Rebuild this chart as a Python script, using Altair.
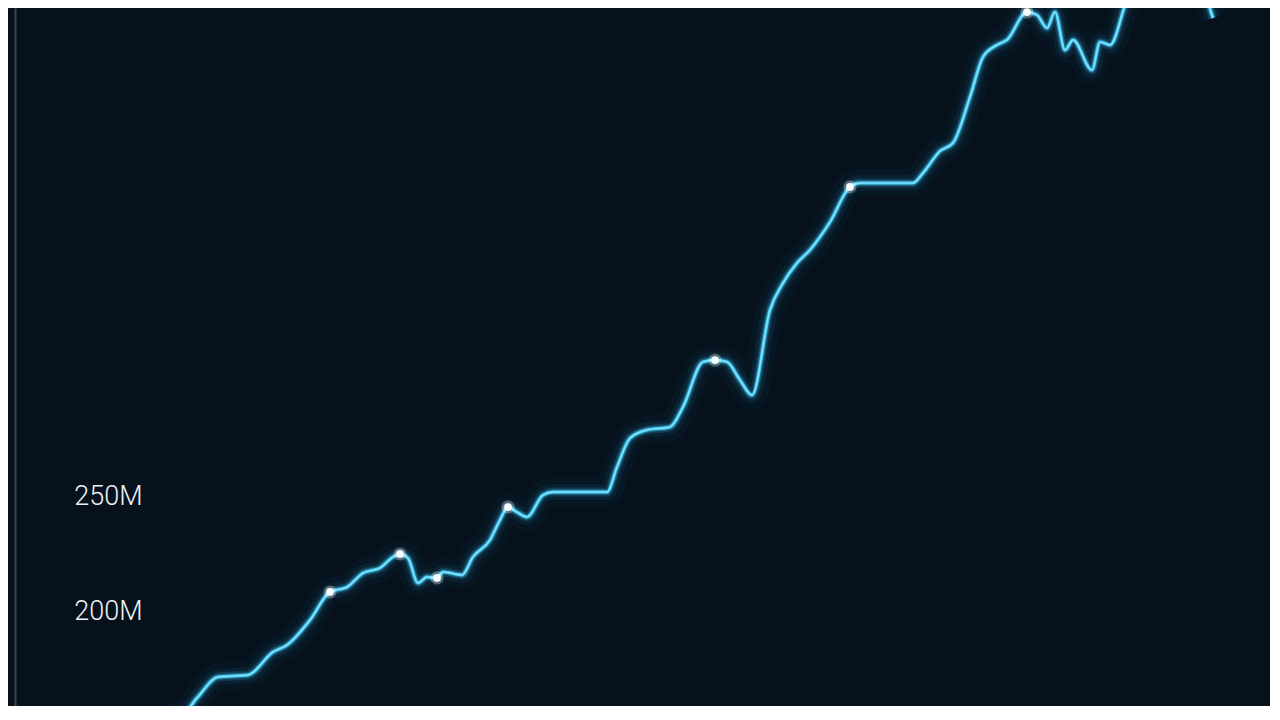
import altair as alt
import pandas as pd

# time index (arbitrary periods) and value in millions
t = [31, 33, 36.4, 40.6, 46.6, 51.6, 54.4, 59, 63, 66.4, 69.6, 73, 75.6, 77, 78.6,
     80.6, 82.4, 84.4, 85.6, 89.4, 91.6, 95, 97, 98.6, 100.4, 102.4, 105.6, 107.6,
     118.4, 120.4, 123, 126.4, 131, 133.6, 137.6, 140, 142.4, 145, 147.4, 151,
     153.6, 156.4, 159, 163, 167, 169, 179.6, 181.6, 185, 187.6, 191, 193.6, 196.4,
     198.4, 202.4, 204.4, 206.4, 208, 210, 211.6, 215.4, 217, 219, 222.4, 226, 230,
     234, 237, 238.6, 239.6]
value_m = [153.5, 153.9, 162.2, 171.3, 172.2, 182.2, 185.2, 196.1, 208.3, 210.4,
           216.5, 218.7, 223.5, 224.8, 223.0, 212.2, 214.8, 214.4, 217.0, 215.7,
           223.5, 230.9, 239.6, 245.2, 243.0, 240.9, 250.4, 251.7, 251.7, 262.6,
           275.2, 278.7, 280.0, 288.7, 308.3, 309.1, 308.3, 300.4, 293.9, 330.9,
           342.6, 351.3, 357.0, 369.1, 384.4, 386.1, 386.1, 390.4, 400.0, 403.5,
           423.5, 440.9, 446.1, 448.3, 460.4, 459.1, 453.5, 460.4, 443.9, 448.3,
           435.2, 447.4, 446.1, 465.7, 478.7, 487.0, 481.0, 492.0, 465.6, 457.8]
highlight_t = [63, 77, 84.4, 98.6, 140, 167, 202.4]
tick_values = [150, 200, 250]

df = pd.DataFrame({"t": t, "value": value_m})
hl = df[df["t"].isin(highlight_t)]

xs = alt.X("t:Q", scale=alt.Scale(domain=[0, 251], nice=False, zero=False), axis=None)
ys_axis = alt.Y(
    "value:Q",
    scale=alt.Scale(domain=[158.7, 462.17], nice=False, zero=False),
    axis=alt.Axis(
        values=tick_values,
        labelExpr="datum.value + 'M'",
        title=None,
        grid=False,
        domain=True,
        domainColor="#3a4351",
        domainWidth=2,
        ticks=True,
        tickSize=0,
        labelPadding=-127,
        labelAlign="right",
        labelBaseline="middle",
        labelColor="#eef1f5",
        labelFont="Roboto",
        labelFontSize=27,
        labelFontWeight=300,
    ),
)
ys = alt.Y("value:Q", scale=alt.Scale(domain=[158.7, 462.17], nice=False, zero=False))

base = alt.Chart(df)
glow4 = base.mark_line(color="#1f9fe0", strokeWidth=28, opacity=0.035, interpolate="monotone", clip=True).encode(x=xs, y=ys_axis)
glow3 = base.mark_line(color="#2fb6ea", strokeWidth=16, opacity=0.07, interpolate="monotone", clip=True).encode(x=xs, y=ys)
glow2 = base.mark_line(color="#35c0f0", strokeWidth=9, opacity=0.16, interpolate="monotone", clip=True).encode(x=xs, y=ys)
glow1 = base.mark_line(color="#3fc8f4", strokeWidth=5.5, opacity=0.35, interpolate="monotone", clip=True).encode(x=xs, y=ys)
core = base.mark_line(color="#4ed2f8", strokeWidth=3, interpolate="monotone", clip=True).encode(x=xs, y=ys)
inner = base.mark_line(color="#c4f0ff", strokeWidth=1.1, opacity=0.5, interpolate="monotone", clip=True).encode(x=xs, y=ys)

hl_glow = alt.Chart(hl).mark_circle(color="white", size=170, opacity=0.3, clip=True).encode(x=xs, y=ys)
hl_dot = alt.Chart(hl).mark_circle(color="white", size=60, opacity=0.95, clip=True).encode(x=xs, y=ys)

chart = alt.layer(glow4, glow3, glow2, glow1, core, inner, hl_glow, hl_dot).properties(
    width=1255,
    height=698,
    background="#07111c",
    padding={"left": 7, "top": 0, "right": 0, "bottom": 0},
    autosize=alt.AutoSizeParams(type="none"),
).configure_view(stroke=None)

chart.save("out.html", embed_options={"renderer": "svg", "actions": False})
